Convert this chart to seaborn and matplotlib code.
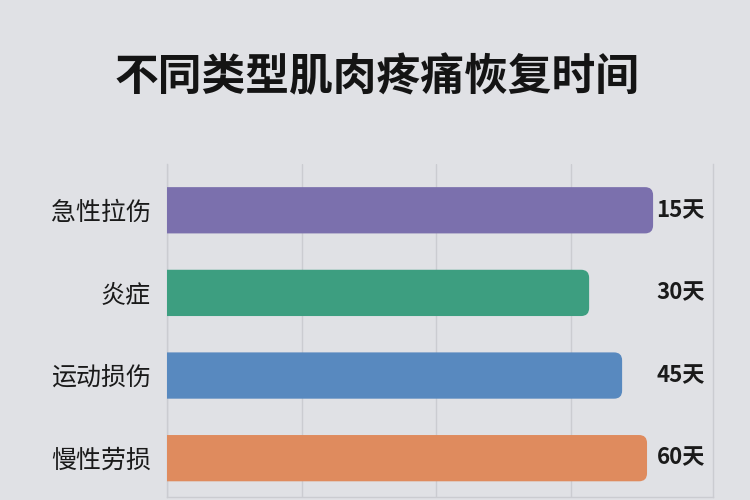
import matplotlib
matplotlib.use("Agg")
import matplotlib.pyplot as plt
import pandas as pd
import seaborn as sns
from matplotlib.patches import FancyBboxPatch

# data
categories = ["急性拉伤", "炎症", "运动损伤", "慢性劳损"]
bar_lengths = [72.2, 62.7, 67.6, 71.3]
value_labels = ["15天", "30天", "45天", "60天"]
colors = ["#7b70ad", "#3d9e80", "#5889bf", "#df8b5e"]
title = "不同类型肌肉疼痛恢复时间"

BG = "#e0e1e5"
GRID = "#cbccd1"

sns.set_theme(style="white")
plt.rcParams["font.family"] = ["Noto Sans CJK SC", "DejaVu Sans"]

df = pd.DataFrame({"category": categories, "length": bar_lengths})

fig = plt.figure(figsize=(7.5, 5), dpi=100, facecolor=BG)
ax = fig.add_axes([167 / 750, 3 / 500, (713 - 167) / 750, (497 - 164) / 500])
ax.set_facecolor(BG)

sns.barplot(data=df, x="length", y="category", hue="category", order=categories,
            palette=colors, saturation=1, width=0.56, legend=False, ax=ax)

ax.set_xlim(0, 81.1)
ax.set_ylim(3.47, -0.56)

# swap the square bars for ones with a rounded right end
xpx = ax.get_window_extent().width / 81.1
ypx = ax.get_window_extent().height / 4.03
for p in list(ax.patches):
    x0, y0 = p.get_x(), p.get_y()
    w, h = p.get_width(), p.get_height()
    fc = p.get_facecolor()
    p.remove()
    r = 8 / xpx
    box = FancyBboxPatch((x0 - 5, y0), w + 5, h,
                         boxstyle=f"round,pad=0,rounding_size={r}",
                         mutation_aspect=xpx / ypx,
                         facecolor=fc, edgecolor="none", zorder=3)
    ax.add_patch(box)

for i, lab in enumerate(value_labels):
    ax.text(79.9, i, lab, ha="right", va="center", fontsize=16,
            fontweight="bold", color="#1a1a1a", zorder=4)

ax.set_xticks([0, 20, 40, 60])
ax.xaxis.grid(True, color=GRID, linewidth=1)
ax.set_axisbelow(True)
ax.tick_params(axis="x", length=0, labelbottom=False)
ax.tick_params(axis="y", length=0, pad=11.5, labelsize=18)
for t in ax.get_yticklabels():
    t.set_color("#1a1a1a")
    t.set_fontweight("medium")
ax.set_xlabel("")
ax.set_ylabel("")
for side in ["left", "right", "bottom"]:
    ax.spines[side].set_color(GRID)
    ax.spines[side].set_linewidth(1)
ax.spines["top"].set_visible(False)

fig.text(377 / 750, 1 - 77 / 500, title, ha="center", va="center",
         fontsize=31.5, fontweight="bold", color="#141414")

fig.savefig("out.png", dpi=100, facecolor=BG)
